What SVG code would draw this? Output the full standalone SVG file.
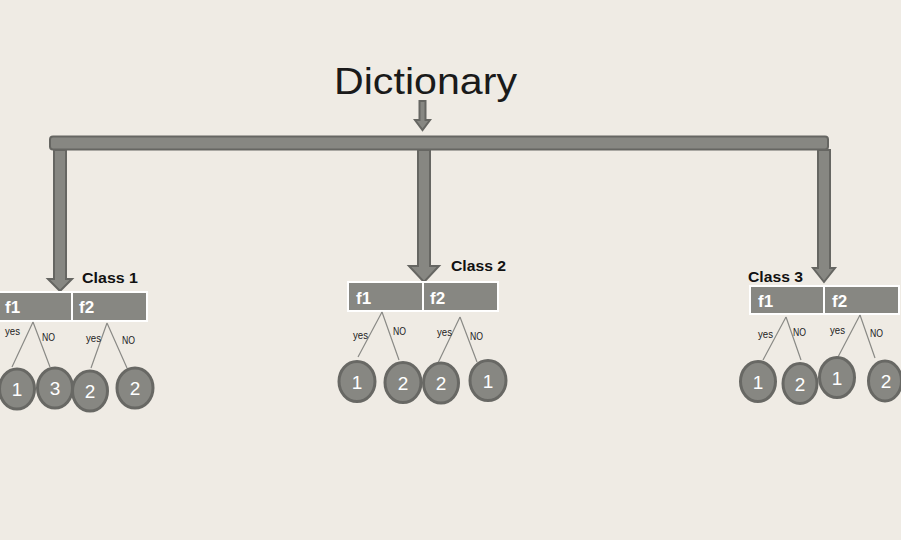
<svg xmlns="http://www.w3.org/2000/svg" width="901" height="540" viewBox="0 0 901 540">
<style>
.arr{fill:#878782;stroke:#666662;stroke-width:2;stroke-linejoin:miter}
.cell{fill:#878782;stroke:#ffffff;stroke-width:2}
.ft{font-family:"Liberation Sans",Arial,sans-serif;font-weight:bold;font-size:17px;fill:#ffffff}
.cls{font-family:"Liberation Sans",Arial,sans-serif;font-weight:bold;font-size:15px;fill:#111111}
.lbl{font-family:"Liberation Sans",Arial,sans-serif;font-size:11px;fill:#222222}
.leaf{fill:#878782;stroke:#686864;stroke-width:3}
.num{font-family:"Liberation Sans",Arial,sans-serif;font-size:19px;fill:#ffffff;text-anchor:middle}
.edge{stroke:#8a8a86;stroke-width:1.2;fill:none}
</style>
<rect x="0" y="0" width="901" height="540" fill="#EFEBE4"/>
<g id="title">
<text x="334" y="94" font-family="'Liberation Sans',Arial,sans-serif" font-size="37" fill="#1a1a1a" textLength="183" lengthAdjust="spacingAndGlyphs">Dictionary</text>
</g>
<g id="connectors">
<polygon class="arr" points="419.5,101 425.5,101 425.5,120 430,120 422.5,130 415,120 419.5,120"/>
<rect class="arr" x="50" y="136.5" width="778" height="13" rx="3" ry="3"/>
<polygon class="arr" points="54,150 66,150 66,279 72,279 60,291 48,279 54,279"/>
<polygon class="arr" points="418,150 430,150 430,266 439,266 424,282 409,266 418,266"/>
<polygon class="arr" points="818,150 830,150 830,268 835,268 824,282 813,268 818,268"/>
</g>
<g id="class1">
<text class="cls" x="82" y="283" textLength="56" lengthAdjust="spacingAndGlyphs">Class 1</text>
<rect class="cell" x="-3" y="292" width="75" height="29"/>
<rect class="cell" x="72" y="292" width="75" height="29"/>
<text class="ft" x="5" y="313">f1</text>
<text class="ft" x="79" y="313">f2</text>
<path class="edge" d="M33,322 L12,367 M33,322 L50,367 M107,323 L91,368 M107,323 L127,368"/>
<text class="lbl" x="5" y="335" textLength="15" lengthAdjust="spacingAndGlyphs">yes</text>
<text class="lbl" x="42" y="341" textLength="13" lengthAdjust="spacingAndGlyphs">NO</text>
<text class="lbl" x="86" y="342" textLength="15" lengthAdjust="spacingAndGlyphs">yes</text>
<text class="lbl" x="122" y="344" textLength="13" lengthAdjust="spacingAndGlyphs">NO</text>
<ellipse class="leaf" cx="17" cy="389" rx="17.5" ry="20"/>
<ellipse class="leaf" cx="55" cy="388" rx="17.5" ry="20"/>
<ellipse class="leaf" cx="90" cy="391" rx="17.5" ry="20"/>
<ellipse class="leaf" cx="135" cy="388" rx="18" ry="20"/>
<text class="num" x="17" y="396">1</text>
<text class="num" x="55" y="395">3</text>
<text class="num" x="90" y="398">2</text>
<text class="num" x="135" y="395">2</text>
</g>
<g id="class2">
<text class="cls" x="451" y="271" textLength="55" lengthAdjust="spacingAndGlyphs">Class 2</text>
<rect class="cell" x="348" y="282" width="75" height="29"/>
<rect class="cell" x="423" y="282" width="75" height="29"/>
<text class="ft" x="356" y="304">f1</text>
<text class="ft" x="430" y="304">f2</text>
<path class="edge" d="M382,312 L358,357 M382,312 L399,360 M460,317 L437,365 M460,317 L477,362"/>
<text class="lbl" x="353" y="339" textLength="15" lengthAdjust="spacingAndGlyphs">yes</text>
<text class="lbl" x="393" y="335" textLength="13" lengthAdjust="spacingAndGlyphs">NO</text>
<text class="lbl" x="437" y="336" textLength="15" lengthAdjust="spacingAndGlyphs">yes</text>
<text class="lbl" x="470" y="340" textLength="13" lengthAdjust="spacingAndGlyphs">NO</text>
<ellipse class="leaf" cx="357" cy="381.5" rx="18" ry="20"/>
<ellipse class="leaf" cx="403" cy="382.5" rx="18" ry="20"/>
<ellipse class="leaf" cx="441" cy="383" rx="17.5" ry="20"/>
<ellipse class="leaf" cx="488" cy="380.5" rx="18" ry="20"/>
<text class="num" x="357" y="388.5">1</text>
<text class="num" x="403" y="389.5">2</text>
<text class="num" x="441" y="390">2</text>
<text class="num" x="488" y="387.5">1</text>
</g>
<g id="class3">
<text class="cls" x="748" y="282" textLength="55" lengthAdjust="spacingAndGlyphs">Class 3</text>
<rect class="cell" x="750" y="286" width="74" height="28"/>
<rect class="cell" x="824" y="286" width="75" height="28"/>
<text class="ft" x="758" y="307">f1</text>
<text class="ft" x="832" y="307">f2</text>
<path class="edge" d="M786,317 L763,360 M786,317 L801,360 M860,315 L838,357 M860,315 L875,358"/>
<text class="lbl" x="758" y="338" textLength="15" lengthAdjust="spacingAndGlyphs">yes</text>
<text class="lbl" x="793" y="336" textLength="13" lengthAdjust="spacingAndGlyphs">NO</text>
<text class="lbl" x="830" y="334" textLength="15" lengthAdjust="spacingAndGlyphs">yes</text>
<text class="lbl" x="870" y="337" textLength="13" lengthAdjust="spacingAndGlyphs">NO</text>
<ellipse class="leaf" cx="758" cy="381.5" rx="17.5" ry="20"/>
<ellipse class="leaf" cx="800" cy="383.5" rx="17" ry="20"/>
<ellipse class="leaf" cx="837" cy="377.5" rx="17.5" ry="20"/>
<ellipse class="leaf" cx="885" cy="381" rx="16.5" ry="20"/>
<text class="num" x="758" y="388.5">1</text>
<text class="num" x="800" y="390.5">2</text>
<text class="num" x="837" y="384.5">1</text>
<text class="num" x="886" y="388">2</text>
</g>
</svg>
